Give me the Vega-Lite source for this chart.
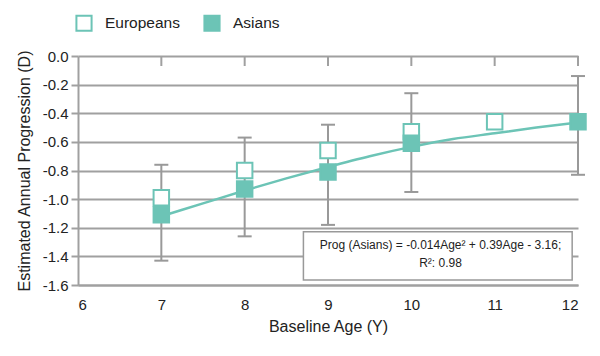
{
  "$schema": "https://vega.github.io/schema/vega-lite/v6.json",
  "autosize": "none",
  "width": 500,
  "height": 229,
  "padding": {"left": 78, "top": 56, "right": 22, "bottom": 71},
  "config": {
    "font": "Liberation Sans",
    "view": {"stroke": null},
    "axis": {"labelColor": "#222", "titleColor": "#222", "labelFont": "Liberation Sans", "titleFont": "Liberation Sans", "titleFontWeight": "normal"},
    "axisY": {"labelOverlap": false, "labelFontSize": 15, "labelPadding": 3},
    "axisX": {"labelOverlap": false, "labelFontSize": 15},
    "locale": {"number": {"decimal": ".", "thousands": ",", "grouping": [3], "currency": ["$", ""], "minus": "-"}}
  },
  "datasets": {
    "points": [
      {"age": 7, "group": "Europeans", "prog": -0.99},
      {"age": 8, "group": "Europeans", "prog": -0.8},
      {"age": 9, "group": "Europeans", "prog": -0.66},
      {"age": 10, "group": "Europeans", "prog": -0.53},
      {"age": 11, "group": "Europeans", "prog": -0.46},
      {"age": 7, "group": "Asians", "prog": -1.11},
      {"age": 8, "group": "Asians", "prog": -0.93},
      {"age": 9, "group": "Asians", "prog": -0.81},
      {"age": 10, "group": "Asians", "prog": -0.61},
      {"age": 12, "group": "Asians", "prog": -0.46}
    ],
    "errors": [
      {"age": 7, "hi": -0.76, "lo": -1.43},
      {"age": 8, "hi": -0.57, "lo": -1.26},
      {"age": 9, "hi": -0.48, "lo": -1.18},
      {"age": 10, "hi": -0.26, "lo": -0.95},
      {"age": 12, "hi": -0.14, "lo": -0.83}
    ],
    "fit": [
      {"age": 7, "prog": -1.12},
      {"age": 7.5, "prog": -1.03},
      {"age": 8, "prog": -0.94},
      {"age": 8.5, "prog": -0.855},
      {"age": 9, "prog": -0.775},
      {"age": 9.5, "prog": -0.7},
      {"age": 10, "prog": -0.635},
      {"age": 10.5, "prog": -0.58},
      {"age": 11, "prog": -0.54},
      {"age": 11.5, "prog": -0.5},
      {"age": 12, "prog": -0.465}
    ],
    "topticks": [{"age": 7}, {"age": 8}, {"age": 9}, {"age": 10}, {"age": 11}, {"age": 12}],
    "note": [{"line1": "Prog (Asians) = -0.014Age\u00b2 + 0.39Age - 3.16;", "line2": "R\u00b2: 0.98"}]
  },
  "layer": [
    {
      "data": {"name": "errors"},
      "mark": {"type": "rule", "color": "#999999", "strokeWidth": 2},
      "encoding": {
        "x": {"field": "age", "type": "quantitative", "scale": {"domain": [6, 12], "nice": false, "zero": false},
          "axis": {"values": [6, 7, 8, 9, 10, 11, 12], "tickCount": 7, "format": "d", "ticks": false, "grid": false, "domainColor": "#a0a0a0", "domainWidth": 2, "labelFontSize": 15, "labelPadding": 12, "labelOverlap": false, "title": "Baseline Age (Y)", "titleFontSize": 16, "titlePadding": 6}},
        "y": {"field": "hi", "type": "quantitative", "scale": {"domain": [-1.6, 0], "nice": false, "zero": false},
          "axis": {"values": [0, -0.2, -0.4, -0.6, -0.8, -1, -1.2, -1.4, -1.6], "tickCount": 9, "format": ".1f", "labelOverlap": false, "grid": true, "gridColor": "#a0a0a0", "gridWidth": 2, "gridOpacity": 1, "domainColor": "#a0a0a0", "domainWidth": 2, "tickColor": "#a0a0a0", "tickWidth": 2, "tickSize": 7, "labelPadding": 3, "labelFontSize": 15, "title": "Estimated Annual Progression (D)", "titleFontSize": 16, "titlePadding": 10}},
        "y2": {"field": "lo"}
      }
    },
    {
      "data": {"name": "topticks"},
      "mark": {"type": "rule", "color": "#a0a0a0", "strokeWidth": 2},
      "encoding": {
        "x": {"field": "age", "type": "quantitative"},
        "y": {"datum": 0, "type": "quantitative"},
        "y2": {"datum": -0.07}
      }
    },
    {
      "data": {"name": "errors"},
      "mark": {"type": "tick", "orient": "horizontal", "color": "#999999", "thickness": 2, "size": 14, "opacity": 1},
      "encoding": {
        "x": {"field": "age", "type": "quantitative"},
        "y": {"field": "hi", "type": "quantitative"}
      }
    },
    {
      "data": {"name": "errors"},
      "mark": {"type": "tick", "orient": "horizontal", "color": "#999999", "thickness": 2, "size": 14, "opacity": 1},
      "encoding": {
        "x": {"field": "age", "type": "quantitative"},
        "y": {"field": "lo", "type": "quantitative"}
      }
    },
    {
      "data": {"name": "fit"},
      "mark": {"type": "line", "color": "#6cc4b6", "strokeWidth": 2.5, "interpolate": "monotone"},
      "encoding": {
        "x": {"field": "age", "type": "quantitative"},
        "y": {"field": "prog", "type": "quantitative"}
      }
    },
    {
      "data": {"name": "points"},
      "mark": {"type": "point", "shape": "square", "filled": true, "size": 240, "stroke": "#6cc4b6", "strokeWidth": 2, "opacity": 1},
      "encoding": {
        "x": {"field": "age", "type": "quantitative"},
        "y": {"field": "prog", "type": "quantitative"},
        "fill": {"field": "group", "type": "nominal", "sort": null,
          "scale": {"domain": ["Europeans", "Asians"], "range": ["#ffffff", "#6cc4b6"]},
          "legend": {"title": null, "orient": "none", "legendX": -3, "legendY": -42, "direction": "horizontal", "symbolType": "square", "symbolSize": 230, "symbolStrokeColor": "#6cc4b6", "symbolStrokeWidth": 2, "labelFontSize": 15.5, "labelColor": "#222", "labelFont": "Liberation Sans", "labelOffset": 12, "columnPadding": 20}}
      }
    },
    {
      "data": {"name": "note"},
      "mark": {"type": "rect", "fill": "#ffffff", "stroke": "#999999", "strokeWidth": 1.5},
      "encoding": {
        "x": {"datum": 8.705, "type": "quantitative"},
        "x2": {"datum": 11.93},
        "y": {"datum": -1.228, "type": "quantitative"},
        "y2": {"datum": -1.565}
      }
    },
    {
      "data": {"name": "note"},
      "mark": {"type": "text", "fontSize": 12, "color": "#222", "font": "Liberation Sans", "align": "center", "baseline": "middle"},
      "encoding": {
        "x": {"datum": 10.35, "type": "quantitative"},
        "y": {"datum": -1.32, "type": "quantitative"},
        "text": {"field": "line1"}
      }
    },
    {
      "data": {"name": "note"},
      "mark": {"type": "text", "fontSize": 12, "color": "#222", "font": "Liberation Sans", "align": "center", "baseline": "middle"},
      "encoding": {
        "x": {"datum": 10.35, "type": "quantitative"},
        "y": {"datum": -1.447, "type": "quantitative"},
        "text": {"field": "line2"}
      }
    }
  ]
}
